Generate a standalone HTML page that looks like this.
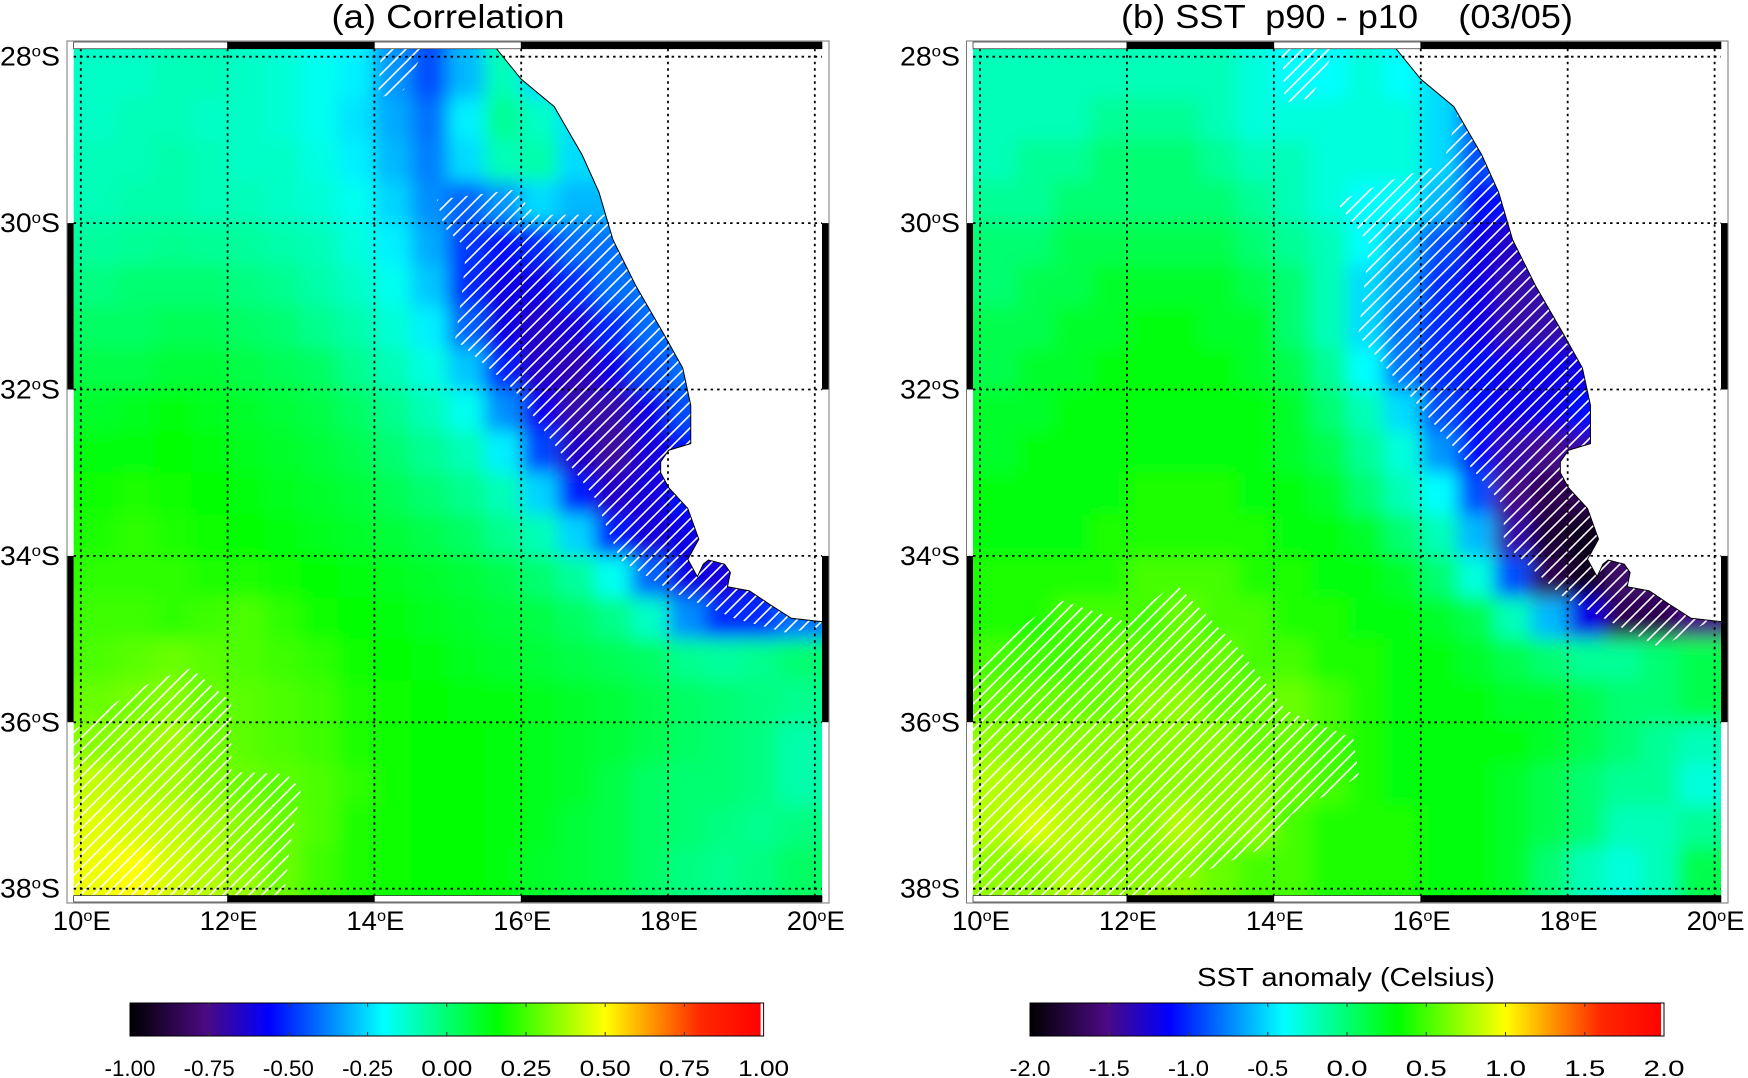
<!DOCTYPE html>
<html><head><meta charset="utf-8"><style>
html,body{margin:0;padding:0;background:#fff;}
svg{display:block;}
text{font-family:"Liberation Sans",sans-serif;fill:#000;}
</style></head><body>
<svg id="fig" xmlns="http://www.w3.org/2000/svg" width="1748" height="1078" viewBox="0 0 1748 1078">
<defs>
<pattern id="hatch" width="13" height="13" patternUnits="userSpaceOnUse"><path d="M-2,15 L15,-2 M-2,2 L2,-2 M11,15 L15,11" stroke="#fff" stroke-width="1.6"/></pattern>
<linearGradient id="cmap" x1="0" x2="1" y1="0" y2="0">
<stop offset="0" stop-color="#000"/><stop offset="0.12" stop-color="#4b0a82"/><stop offset="0.22" stop-color="#0000ff"/><stop offset="0.4" stop-color="#00ffff"/><stop offset="0.58" stop-color="#00ff00"/><stop offset="0.75" stop-color="#ffff00"/><stop offset="0.9" stop-color="#ff2800"/><stop offset="1" stop-color="#ff0000"/>
</linearGradient>
</defs>
</svg>
<script>
// ---- data: correlation (hundredths), rows lat 28.25..37.75 S, cols lon 10.25..19.75 E
const corr = [
[-12,-12,-10,-10,-12,-14,-18,-22,-35,-45,-30,-10,-25,-25,-25,-25,-25,-25,-25,-25],
[-12,-10,-10,-12,-12,-14,-18,-24,-32,-40,-22,-5,-12,-25,-25,-25,-25,-25,-25,-25],
[-10,-10,-8,-10,-12,-12,-16,-22,-30,-38,-25,-10,-8,-25,-25,-25,-25,-25,-25,-25],
[-10,-8,-8,-10,-10,-12,-14,-18,-26,-36,-42,-35,-25,-30,-30,-30,-30,-30,-30,-30],
[-6,-5,-4,-5,-6,-8,-10,-15,-22,-32,-48,-55,-50,-40,-40,-40,-40,-40,-40,-40],
[-2,0,0,0,-2,-4,-8,-12,-18,-28,-50,-60,-60,-50,-40,-40,-40,-40,-40,-40],
[2,2,4,4,2,0,-4,-8,-14,-22,-42,-60,-65,-62,-50,-40,-40,-40,-40,-40],
[6,6,8,8,6,4,2,-4,-10,-16,-28,-52,-65,-68,-60,-45,-40,-40,-40,-40],
[10,12,14,12,10,8,6,2,-4,-10,-18,-36,-58,-70,-70,-60,-45,-45,-45,-45],
[14,15,16,14,12,10,8,5,0,-5,-10,-22,-46,-65,-72,-62,-55,-55,-55,-55],
[18,20,18,16,14,12,10,8,4,0,-4,-10,-26,-52,-65,-62,-55,-55,-55,-55],
[20,22,20,18,16,14,12,10,8,5,2,-4,-10,-26,-52,-62,-60,-55,-55,-55],
[22,22,22,20,20,18,16,14,12,10,8,5,0,-6,-18,-42,-60,-62,-60,-55],
[24,24,22,24,26,22,18,16,14,12,10,8,6,2,-3,-12,-36,-50,-50,-40],
[26,28,30,28,26,24,22,18,16,14,12,10,8,6,4,2,-4,-6,-4,0],
[30,32,34,30,28,26,24,20,18,16,14,14,12,10,8,5,2,0,-2,-4],
[34,36,38,32,28,26,24,20,18,16,16,14,12,10,8,5,2,0,-2,-8],
[42,40,38,34,30,28,26,22,18,16,16,14,12,10,6,2,0,0,-2,-8],
[46,44,42,38,34,30,26,20,18,16,16,14,12,8,6,2,0,-2,-4,-2],
[48,50,44,40,36,30,24,20,18,16,16,14,10,8,6,2,-2,-4,-2,2]
];
// ---- data: SST p90-p10 (tenths of deg C)
const sst = [
[-2,-2,-2,-2,-2,-2,-2,-3,-4,-4,-3,-4,-5,-6,-6,-6,-6,-6,-6,-6],
[-2,-2,-2,-1,-1,-1,-2,-3,-3,-3,-3,-3,-5,-8,-8,-8,-8,-8,-8,-8],
[-2,-1,-1,0,0,0,-1,-2,-2,-3,-3,-3,-5,-9,-9,-9,-9,-9,-9,-9],
[-1,-1,0,0,0,0,0,-1,-2,-3,-4,-4,-6,-11,-11,-11,-11,-11,-11,-11],
[0,0,1,1,1,1,1,0,-1,-2,-4,-6,-9,-12,-13,-13,-13,-13,-13,-13],
[0,1,1,2,2,2,2,1,0,-2,-5,-7,-10,-12,-14,-14,-14,-14,-14,-14],
[1,1,2,2,3,3,2,2,0,-2,-5,-8,-10,-12,-14,-14,-14,-14,-14,-14],
[1,2,2,3,3,3,3,2,1,-1,-4,-8,-10,-11,-12,-12,-12,-12,-12,-12],
[2,2,3,3,3,3,3,3,2,0,-2,-5,-9,-11,-12,-12,-11,-11,-11,-11],
[2,3,3,3,3,3,3,3,2,1,-1,-3,-7,-11,-14,-15,-14,-14,-14,-14],
[3,3,3,3,4,4,4,3,3,2,0,-2,-4,-9,-15,-17,-17,-17,-17,-17],
[3,3,3,4,4,4,4,4,3,3,2,0,-2,-6,-14,-18,-19,-18,-18,-18],
[4,4,4,4,5,5,5,4,4,3,3,2,0,-3,-9,-17,-19,-16,-16,-14],
[4,4,5,5,5,6,5,5,4,4,3,3,2,1,-2,-6,-12,-17,-17,-15],
[5,5,5,6,6,6,6,5,5,4,4,3,3,2,1,0,-1,-1,0,1],
[6,6,6,6,7,7,6,6,6,5,4,3,3,3,2,2,1,0,0,1],
[7,7,7,7,7,7,7,6,6,5,4,3,3,3,3,2,1,0,-1,-2],
[8,8,8,7,7,7,7,7,6,5,4,3,3,3,2,1,0,-1,-1,-3],
[8,9,8,8,7,8,7,7,5,4,4,4,3,3,2,1,0,-2,-2,-1],
[7,7,8,7,7,7,6,5,5,4,4,4,3,3,2,0,-2,-3,-2,1]
];
const lonTicks = [10,12,14,16,18,20];
const latTicks = [28,30,32,34,36,38];
const corrLabels = ["-1.00","-0.75","-0.50","-0.25","0.00","0.25","0.50","0.75","1.00"];
const sstLabels = ["-2.0","-1.5","-1.0","-0.5","0.0","0.5","1.0","1.5","2.0"];
const coast = [[15.6,27.5],[15.66,27.9],[16.0,28.27],[16.45,28.6],[16.83,29.18],[17.06,29.63],[17.25,30.2],[17.56,30.75],[17.94,31.33],[18.2,31.74],[18.31,32.19],[18.31,32.65],[18.01,32.73],[17.9,32.87],[17.9,33.0],[18.01,33.18],[18.27,33.43],[18.42,33.8],[18.27,34.04],[18.4,34.25],[18.48,34.1],[18.55,34.05],[18.77,34.1],[18.85,34.2],[18.81,34.37],[19.11,34.42],[19.38,34.58],[19.68,34.75],[19.98,34.78],[20.2,34.8]];
const hatchA = [
 [[14.85,29.72],[15.9,29.6],[16.2,29.9],[21,29.9],[21,34.75],[19.6,34.92],[18.9,34.75],[18.1,34.45],[17.35,34.05],[17.0,33.3],[16.4,32.6],[15.9,32.0],[15.1,31.4],[15.2,30.8],[15.25,30.3],[14.95,30.05]],
 [[14.1,27.8],[14.75,27.8],[14.4,28.4],[14.05,28.5]],
 [[9.9,36.1],[10.5,35.75],[11.0,35.5],[11.5,35.35],[12.05,35.75],[12.05,36.6],[12.8,36.62],[13.0,36.8],[12.85,37.5],[12.75,38.2],[9.9,38.2]]
];
const hatchB = [
 [[14.85,29.75],[15.7,29.45],[16.3,29.3],[16.6,28.4],[16.2,27.8],[21,27.8],[21,34.75],[19.9,34.8],[19.25,35.1],[17.95,34.5],[17.13,33.85],[17.13,33.4],[16.07,32.3],[15.15,31.35],[15.3,30.25]],
 [[14.1,27.8],[14.9,27.8],[14.5,28.5],[14.15,28.55]],
 [[9.9,35.37],[10.5,34.9],[11.06,34.52],[11.97,34.79],[12.66,34.33],[13.49,35.08],[14.17,35.86],[15.08,36.19],[15.16,36.65],[14.25,37.1],[13.86,37.51],[12.8,37.88],[11.97,38.2],[9.9,38.2]]
];

const NS = "http://www.w3.org/2000/svg";
const svg = document.getElementById('fig');
const stops = [[0,0,0,0],[0.12,75,10,130],[0.22,0,0,255],[0.4,0,255,255],[0.58,0,255,0],[0.75,255,255,0],[0.9,255,40,0],[1,255,0,0]];
function cmap(t){t=Math.max(0,Math.min(1,t));for(let i=1;i<stops.length;i++){if(t<=stops[i][0]){const a=stops[i-1],b=stops[i],f=(t-a[0])/(b[0]-a[0]);return 'rgb('+[1,2,3].map(k=>Math.round(a[k]+(b[k]-a[k])*f)).join(',')+')';}}return 'rgb(255,0,0)';}
function el(tag,attrs,parent){const e=document.createElementNS(NS,tag);for(const k in attrs)e.setAttribute(k,attrs[k]);(parent||svg).appendChild(e);return e;}

const panels = [
 {id:'a',x0:80.8,kx:73.4,fl:73.6,fr:822,frl:67,frr:829,data:corr,tf:v=>(v/100+1)/2,hatch:hatchA,title:'(a) Correlation',tcx:448,tw:233,labR:60,cbl:130,cbr:763.6,cbLabels:corrLabels,lw:51},
 {id:'b',x0:980,kx:73.46,fl:973,fr:1721,frl:966.5,frr:1728,data:sst,tf:v=>(v/10+2)/4,hatch:hatchB,title:'(b) SST  p90 - p10    (03/05)',tcx:1347,tw:452,labR:960,cbl:1030,cbr:1664,cbLabels:sstLabels,lw:41}
];
const y0=56.7, ky=83.2, ft=48.8, fb=895.5, frt=41, frb=903;

panels.forEach(p=>{
 const X=lon=>p.x0+(lon-10)*p.kx, Y=lat=>y0+(lat-28)*ky;
 const g=el('g',{});
 
 
 const cp=el('clipPath',{id:'clip'+p.id},svg.querySelector('defs'));
 el('rect',{x:p.fl,y:ft,width:p.fr-p.fl,height:fb-ft},cp);
 const f=el('filter',{id:'blur'+p.id,filterUnits:'userSpaceOnUse',x:p.fl-100,y:ft-100,width:p.fr-p.fl+200,height:fb-ft+200},svg.querySelector('defs'));
 el('feGaussianBlur',{stdDeviation:9},f);
 const clipG=el('g',{'clip-path':'url(#clip'+p.id+')'},g);
 const field=el('g',{filter:'url(#blur'+p.id+')'},clipG);
 
 
 p.data.forEach((row,r)=>row.forEach((v,c)=>{
  let lo0=10+0.5*c, lo1=lo0+0.5, la0=28+0.5*r, la1=la0+0.5;
  if(c===0)lo0=9; if(c===row.length-1)lo1=21; if(r===0)la0=27; if(r===p.data.length-1)la1=39;
  const cell=el('rect',{x:X(lo0),y:Y(la0),width:X(lo1)-X(lo0)+0.5,height:Y(la1)-Y(la0)+0.5,fill:cmap(p.tf(v))},field);
  
  
 }));
 p.hatch.forEach(poly=>{
  const h=el('polygon',{points:poly.map(q=>X(q[0])+','+Y(q[1])).join(' '),fill:'url(#hatch)'},clipG);
  
  
 });
 const land=el('polygon',{points:coast.map(q=>X(q[0])+','+Y(q[1])).join(' ')+' '+X(21)+','+Y(34.8)+' '+X(21)+','+Y(27),fill:'#fff',stroke:'#000','stroke-width':1},clipG);
 
 
 lonTicks.forEach(l=>{const ln=el('line',{x1:X(l),x2:X(l),y1:ft,y2:fb,stroke:'#000','stroke-width':1.8,'stroke-dasharray':'2.5 4'},g);
  
  });
 latTicks.forEach(l=>{const ln=el('line',{x1:p.fl,x2:p.fr,y1:Y(l),y2:Y(l),stroke:'#000','stroke-width':1.8,'stroke-dasharray':'2.5 4'},g);
  
  });
 const fr=el('rect',{x:p.frl,y:frt,width:p.frr-p.frl,height:frb-frt,fill:'none',stroke:'#777','stroke-width':1},g);
 
 
 for(let i=0;i<5;i++){
  const a=lonTicks[i],b=lonTicks[i+1];
  const black=(i===1||i>=3);
  const xa=i===0?p.fl:X(a), xb=i===4?p.fr:X(b);
  [[frt+1,ft],[fb,frb-1]].forEach(([ya,yb])=>{
   const s=el('rect',{x:xa,y:ya,width:xb-xa,height:yb-ya,fill:black?'#000':'#fff',stroke:'#000','stroke-width':0.6},g);
   
   });
  const blackL=(i===1||i===3);
  const ya=i===0?ft:Y(latTicks[i]), yb=i===4?fb:Y(latTicks[i+1]);
  [[p.frl+0.5,p.fl],[p.fr,p.frr-0.5]].forEach(([xa2,xb2])=>{
   const s=el('rect',{x:xa2,y:ya,width:xb2-xa2,height:yb-ya,fill:blackL?'#000':'#fff'},g);
   
   });
 }
 latTicks.forEach(l=>{
  const t=el('text',{x:p.labR,y:Y(l)+9,'text-anchor':'end','font-size':27,textLength:60,lengthAdjust:'spacingAndGlyphs'},g);
  t.innerHTML=l+'<tspan font-size="16" dy="-9">o</tspan><tspan dy="9">S</tspan>';
  
  
 });
 lonTicks.forEach(l=>{
  const t=el('text',{x:X(l)+1,y:930,'text-anchor':'middle','font-size':27,textLength:58,lengthAdjust:'spacingAndGlyphs'},g);
  t.innerHTML=l+'<tspan font-size="16" dy="-9">o</tspan><tspan dy="9">E</tspan>';
  
  
 });
 const tt=el('text',{x:p.tcx,y:28,'text-anchor':'middle','font-size':33,textLength:p.tw,lengthAdjust:'spacingAndGlyphs',style:'white-space:pre'},g);
 tt.textContent=p.title;
 
 
 const cb=el('rect',{x:p.cbl,y:1003,width:p.cbr-p.cbl,height:33,fill:'url(#cmap)',stroke:'#000','stroke-width':1},g);
 
 
 const wv=el('rect',{x:p.cbr-3,y:1003.5,width:2.5,height:32,fill:'#fff'},g);
 
 
 p.cbLabels.forEach((s,i)=>{
  const x=p.cbl+i*(p.cbr-p.cbl)/(p.cbLabels.length-1);
  if(i>0&&i<p.cbLabels.length-1){
   const tk=el('path',{d:'M'+x+',1003 v4 M'+x+',1036 v-4',stroke:'#333','stroke-width':1},g);
   
   
  }
  const t=el('text',{x:x,y:1076,'text-anchor':'middle','font-size':22,textLength:p.lw,lengthAdjust:'spacingAndGlyphs'},g);
  t.textContent=s;
  
  
 });
});
const ct=el('text',{x:1346,y:986,'text-anchor':'middle','font-size':26,textLength:298,lengthAdjust:'spacingAndGlyphs'});
ct.textContent='SST anomaly (Celsius)';


</script>
</body></html>
